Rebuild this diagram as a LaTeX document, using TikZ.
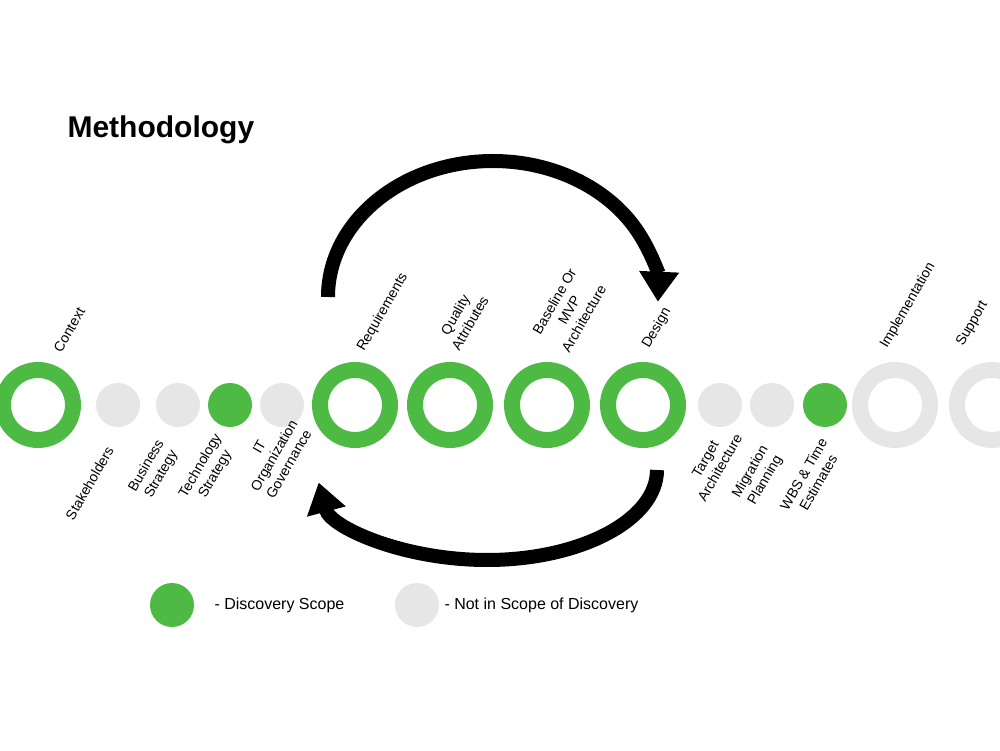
\documentclass[tikz,border=0pt]{standalone}
\usepackage{fontspec}
\setmainfont{Liberation Sans}
\usetikzlibrary{arrows.meta}
\definecolor{gr}{HTML}{4DBB43}
\definecolor{gy}{HTML}{E6E6E6}
\begin{document}
\begin{tikzpicture}[x=1pt,y=1pt,
  ring/.style={circle,draw=#1,line width=16pt,minimum size=70pt,inner sep=0pt},
  dot/.style={circle,fill=#1,minimum size=44pt,inner sep=0pt},
  up/.style={rotate=60,anchor=south west,align=center,font=\fontsize{14}{17}\selectfont,inner sep=1pt},
  dn/.style={rotate=60,anchor=north,align=center,font=\fontsize{14}{17}\selectfont,inner sep=1pt},
  bigarrow/.style={line width=14pt,-{Triangle[length=30pt,width=38pt]}}]
\useasboundingbox (0,0) rectangle (1000,750);
\node[anchor=west,font=\bfseries\fontsize{30}{34}\selectfont] (title) at (64,620) {Methodology};
% circles
\node[ring=gr] (c1) at (38,345) {};
\node[dot=gy] (c2) at (118,345) {};
\node[dot=gy] (c3) at (178,345) {};
\node[dot=gr] (c4) at (230,345) {};
\node[dot=gy] (c5) at (282,345) {};
\node[ring=gr] (c6) at (355,345) {};
\node[ring=gr] (c7) at (450,345) {};
\node[ring=gr] (c8) at (547,345) {};
\node[ring=gr] (c9) at (643,345) {};
\node[dot=gy] (c10) at (720,345) {};
\node[dot=gy] (c11) at (772,345) {};
\node[dot=gr] (c12) at (825,345) {};
\node[ring=gy] (c13) at (895,345) {};
\node[ring=gy] (c14) at (992,345) {};
% labels above
\node[up] (l1) at (62,395) {Context};
\node[up] (l6) at (367,395) {Requirements};
\node[up] (l7) at (460,397) {Quality\\Attributes};
\node[up] (l8) at (570,395) {Baseline Or\\MVP\\Architecture};
\node[up] (l9) at (652,398) {Design};
\node[up] (l13) at (890,398) {Implementation};
\node[up] (l14) at (966,400) {Support};
% labels below
\node[dn] (l2) at (84,270) {Stakeholders};
\node[dn] (l3) at (140,288) {Business\\Strategy};
\node[dn] (l4) at (194,288) {Technology\\Strategy};
\node[dn] (l5) at (254,306) {IT\\Organization\\Governance};
\node[dn] (l10) at (700,294) {Target\\Architecture};
\node[dn] (l11) at (744,282) {Migration\\Planning};
\node[dn] (l12) at (798,279) {WBS \& Time\\Estimates};
% arrows
\coordinate (a1) at (328,453);
\coordinate (a2) at (657,280);
\draw[bigarrow] (a1) arc[start angle=180,end angle=-2,x radius=165,y radius=136];
\draw[bigarrow] (a2) arc[start angle=0,end angle=-172,x radius=170,y radius=90];
% legend
\node[dot=gr] (k1) at (172,145) {};
\node[anchor=west,font=\fontsize{16}{18}\selectfont] (k1t) at (211,145) {- Discovery Scope};
\node[dot=gy] (k2) at (417,145) {};
\node[anchor=west,font=\fontsize{16}{18}\selectfont] (k2t) at (441,145) {- Not in Scope of Discovery};
\end{tikzpicture}
\end{document}
